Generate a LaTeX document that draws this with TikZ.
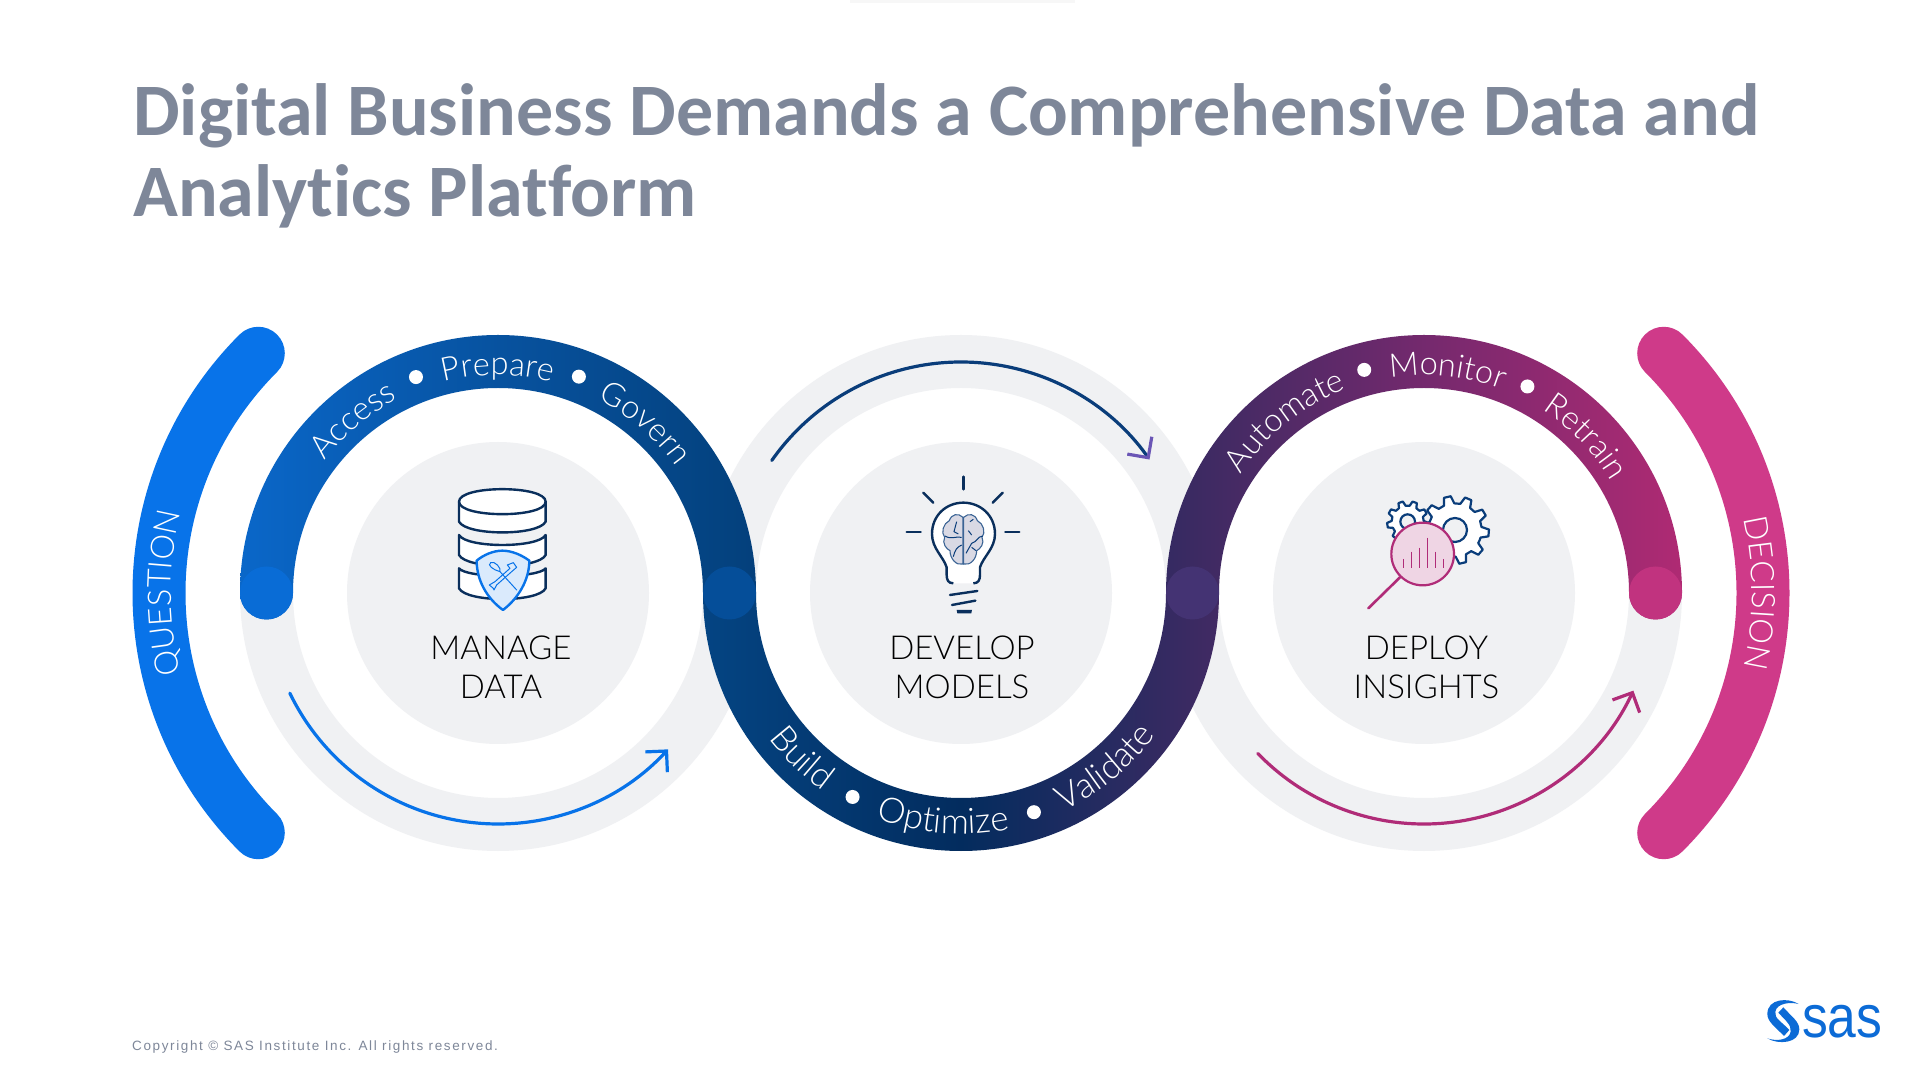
\documentclass[tikz,border=0pt]{standalone}
\usepackage{xcolor}
\usepackage{fontspec}
\usepackage{tikz}
\usetikzlibrary{calc, positioning, arrows.meta, decorations.text}
\setmainfont{Lato}
\newfontfamily\titlefont{Carlito}[Ligatures=CommonOff]
\newfontfamily\lightfont{Lato Light}
\newfontfamily\arialfont{Liberation Sans}
\definecolor{titleGray}{HTML}{7E8799}
\definecolor{paleGray}{HTML}{F0F1F3}
\definecolor{askBlue}{HTML}{0873E9}
\definecolor{decidePink}{HTML}{CF3A89}
\definecolor{navyLine}{HTML}{0A2F5C}
\definecolor{arrowNavy}{HTML}{0A3D7A}
\definecolor{arrowViolet}{HTML}{6A55B5}
\definecolor{arrowPlum}{HTML}{B02C78}
\definecolor{sasBlue}{HTML}{0C6BD6}
\definecolor{ringA}{HTML}{0A67C9}
\definecolor{ringB}{HTML}{07529F}
\definecolor{ringC}{HTML}{04427F}
\definecolor{ringD}{HTML}{032C5E}
\definecolor{ringE}{HTML}{3B2A62}
\definecolor{ringF}{HTML}{76296E}
\definecolor{ringG}{HTML}{AF2A73}
\pgfdeclarehorizontalshading{ringshade}{100bp}{color(0bp)=(ringA); color(25bp)=(ringA); color(34bp)=(ringB); color(42bp)=(ringC); color(50bp)=(ringD); color(58bp)=(ringE); color(66.3bp)=(ringF); color(75bp)=(ringG); color(100bp)=(ringG)}
\newcommand{\ringfont}{\lightfont\fontsize{32.5}{32.5}\selectfont\color{white}}
\newcommand{\lowfont}{\lightfont\fontsize{35}{35}\selectfont\color{white}}
\tikzset{
    backring/.style={draw=paleGray, line width=53pt},
    sidearc/.style={line width=53pt, line cap=round},
    joint/.style={circle, inner sep=0pt, minimum size=53pt},
    hub/.style={circle, fill=paleGray, inner sep=0pt, minimum size=302pt},
    hubtext/.style={align=center, text=black, font=\lightfont\fontsize{33}{39}\selectfont},
    ringtext/.style={decorate, decoration={text along path, text align=center, text={|\ringfont|#1}}},
    lowtext/.style={decorate, decoration={text along path, text align=center, text={|\lowfont|#1}}},
    ringdot/.style={circle, fill=white, inner sep=0pt, minimum size=14pt},
    flow/.style={line width=3.2pt, line cap=round, -{Straight Barb[length=15pt,width=30pt]}},
    iconline/.style={draw=navyLine, line width=2.4pt, line join=round},
    gearline/.style={draw=arrowNavy, fill=white, line width=2.2pt, line join=round},
    brainline/.style={draw=arrowNavy!80!white, fill=blue!30!black!15!white, line width=1.1pt},
    foldline/.style={draw=arrowNavy, line width=1pt}
}
\begin{document}
\begin{tikzpicture}[x=1pt, y=1pt]
    \useasboundingbox (0,0) rectangle (1920,1080);
    \fill[white] (0,0) rectangle (1920,1080);
    \fill[black!3] (850,1077) rectangle (1075,1080);
    \coordinate (ManageCtr) at (498,487);
    \coordinate (DevelopCtr) at (961,487);
    \coordinate (DeployCtr) at (1424,487);

    % Title
    \node[anchor=north west, inner sep=0pt, align=left, text=titleGray, font=\titlefont\bfseries\fontsize{74}{81}\selectfont] (Title) at (133,996.5) {Digital Business Demands a Comprehensive Data and\\Analytics Platform};

    % Gray rings
    \draw[backring] ([shift={(180:231.5)}]ManageCtr) arc (180:360:231.5);
    \draw[backring] ([shift={(180:231.5)}]DevelopCtr) arc (180:0:231.5);
    \draw[backring] ([shift={(180:231.5)}]DeployCtr) arc (180:360:231.5);

    % Hubs
    \node[hub] (ManageHub) at (ManageCtr) {};
    \node[hub] (DevelopHub) at (DevelopCtr) {};
    \node[hub] (DeployHub) at (DeployCtr) {};

    % Side arcs
    \draw[sidearc, askBlue] ([shift={(135:339)}]ManageCtr) arc (135:225:339);
    \draw[sidearc, decidePink] ([shift={(45:339)}]DeployCtr) arc (45:-45:339);

    % Big S ribbon
    \shade[shading=ringshade] (240,487) arc (180:0:258) arc (180:360:205) arc (180:0:258)
        arc (0:-180:26.5) arc (0:180:205) arc (0:-180:258) arc (0:180:205) arc (0:-180:26.5) -- cycle;
    \node[joint, fill=ringA!60!askBlue] (JointA) at (266.5,487) {};
    \node[joint, fill=ringC!75!askBlue] (JointB) at (729.5,487) {};
    \node[joint, fill=ringE!80!arrowViolet] (JointC) at (1192.5,487) {};
    \node[joint, fill=ringG!45!decidePink] (JointD) at (1655.5,487) {};

    % Ribbon words
    \path[ringtext={Access}] ([shift={(159:218)}]ManageCtr) arc (159:101:218);
    \path[ringtext={Prepare}] ([shift={(120:218)}]ManageCtr) arc (120:60:218);
    \path[ringtext={Govern}] ([shift={(79:218)}]ManageCtr) arc (79:19:218);
    \path[lowtext={Build}] ([shift={(196:241)}]DevelopCtr) arc (196:256:241);
    \path[lowtext={Optimize}] ([shift={(235:241)}]DevelopCtr) arc (235:296:241);
    \path[lowtext={Validate}] ([shift={(279.5:241)}]DevelopCtr) arc (279.5:339.5:241);
    \path[ringtext={Automate}] ([shift={(164:218)}]DeployCtr) arc (164:94:218);
    \path[ringtext={Monitor}] ([shift={(114:218)}]DeployCtr) arc (114:54:218);
    \path[ringtext={Retrain}] ([shift={(74.5:218)}]DeployCtr) arc (74.5:13.5:218);
    \path[ringtext={QUESTION}] ([shift={(212:327)}]ManageCtr) arc (212:148:327);
    \path[ringtext={DECISION}] ([shift={(32:328)}]DeployCtr) arc (32:-32:328);

    % Ribbon dots
    \node[ringdot] (DotA) at ([shift={(110.8:231)}]ManageCtr) {};
    \node[ringdot] (DotB) at ([shift={(69.5:231)}]ManageCtr) {};
    \node[ringdot] (DotC) at ([shift={(242:231)}]DevelopCtr) {};
    \node[ringdot] (DotD) at ([shift={(288.4:231)}]DevelopCtr) {};
    \node[ringdot] (DotE) at ([shift={(105:231)}]DeployCtr) {};
    \node[ringdot] (DotF) at ([shift={(63.4:231)}]DeployCtr) {};

    % Flow arrows
    \draw[flow, askBlue] ([shift={(205.7:231)}]ManageCtr) arc (205.7:317.4:231);
    \draw[flow, arrowNavy, -{Straight Barb[length=15pt,width=30pt,color=arrowViolet]}] ([shift={(145:231)}]DevelopCtr) arc (145:35.3:231);
    \draw[flow, arrowPlum] ([shift={(224:231)}]DeployCtr) arc (224:335:231);

    % Hub labels
    \node[hubtext] (ManageText) at (501,413) {MANAGE\\DATA};
    \node[hubtext] (DevelopText) at (962,413) {DEVELOP\\MODELS};
    \node[hubtext] (DeployText) at (1426.5,413) {DEPLOY\\INSIGHTS};

    % Database icon
    \begin{scope}[shift={(430pt,610pt)}, x=0.3333pt, y=-0.3333pt]
        \draw[iconline, fill=white] (87,295) .. controls (110,325) and (325,325) .. (347,295) -- (347,355) .. controls (325,398) and (110,398) .. (87,355) -- cycle;
        \draw[iconline, fill=white] (87,195) .. controls (110,235) and (325,235) .. (347,195) -- (347,255) .. controls (325,298) and (110,298) .. (87,255) -- cycle;
        \draw[iconline, fill=white] (87,95) .. controls (87,45) and (347,45) .. (347,95) -- (347,155) .. controls (325,198) and (110,198) .. (87,155) -- cycle;
        \draw[iconline] (87,95) .. controls (87,145) and (347,145) .. (347,95);
        \draw[draw=askBlue, fill=askBlue!15, line width=2.4pt, line join=round] (217,242) .. controls (190,242) and (160,255) .. (140,272) .. controls (140,330) and (170,385) .. (219,420) .. controls (265,385) and (298,330) .. (298,272) .. controls (275,255) and (245,242) .. (217,242) -- cycle;
        \draw[draw=askBlue, line width=1pt, line cap=round] (260,360) -- (210,305) .. controls (190,300) and (170,285) .. (182,278) .. controls (195,272) and (215,295) .. (210,305);
        \draw[draw=askBlue, line width=1pt, line cap=round, line join=round] (190,355) -- (178,345) -- (195,335) -- (240,295) -- (232,285) -- (250,278) -- (260,292) -- (245,305) -- (200,345) -- (192,360) -- cycle;
    \end{scope}

    % Bulb icon
    \begin{scope}[shift={(890pt,620pt)}, x=0.3333pt, y=-0.3333pt]
        \draw[iconline, fill=white] (190,370) .. controls (175,370) and (170,360) .. (170,345) -- (170,322) .. controls (160,290) and (126,265) .. (126,222) .. controls (126,165) and (170,128) .. (220,128) .. controls (270,128) and (315,165) .. (315,222) .. controls (315,265) and (280,290) .. (270,322) -- (270,345) .. controls (270,360) and (265,370) .. (250,370);
        \foreach \xa/\ya/\xb/\yb in {220/50/220/88, 100/98/130/128, 338/98/308/128, 50/216/92/216, 346/216/388/216, 180/405/262/393, 186/435/256/422} {
            \draw[iconline, line cap=round] (\xa,\ya) -- (\xb,\yb);
        }
        \fill[navyLine] (200,450) -- (246,450) -- (244,460) -- (202,460) -- cycle;
        \draw[brainline] (219,172) .. controls (205,158) and (184,162) .. (178,182) .. controls (160,190) and (152,218) .. (164,232) .. controls (155,250) and (170,268) .. (180,272) .. controls (180,297) and (200,318) .. (219,312) -- cycle;
        \draw[brainline] (221,172) .. controls (235,158) and (256,162) .. (262,182) .. controls (280,190) and (288,218) .. (276,232) .. controls (285,250) and (270,268) .. (260,272) .. controls (260,297) and (240,318) .. (221,312) -- cycle;
        \draw[foldline] (200,185) -- (192,215) -- (205,222) (165,228) .. controls (185,240) and (195,228) .. (215,232) (190,290) .. controls (195,270) and (200,262) .. (215,255) (240,185) -- (250,178) (245,225) -- (235,212) (278,228) .. controls (262,230) and (262,245) .. (245,250) -- (228,280) (258,272) -- (245,262);
    \end{scope}

    % Gears and lens icon
    \begin{scope}[shift={(1360pt,600pt)}, x=0.3333pt, y=-0.3333pt]
        \foreach \cx/\cy/\ro/\ri/\hole/\teeth/\rot in {143/125/62/48/22/9/10, 285/150/102/80/36/10/5} {
            \pgfmathsetmacro{\st}{360/\teeth}
            \draw[gearline] ($(\cx,\cy)+({\rot+0.5*\st}:\ri)$) \foreach \k in {1,...,\teeth} {
                -- ($(\cx,\cy)+({\k*\st+\rot-0.32*\st}:\ri)$) -- ($(\cx,\cy)+({\k*\st+\rot-0.16*\st}:\ro)$) -- ($(\cx,\cy)+({\k*\st+\rot+0.16*\st}:\ro)$) -- ($(\cx,\cy)+({\k*\st+\rot+0.32*\st}:\ri)$)
            } -- cycle;
            \draw[draw=arrowNavy, fill=paleGray, line width=2.2pt] (\cx,\cy) circle[radius=\hole];
        }
        \draw[draw=arrowPlum, line width=2.6pt, line cap=round] (120,292) -- (25,385);
        \draw[draw=arrowPlum, fill=arrowPlum!20, line width=2.2pt] (188,222) circle[radius=94];
        \foreach \bx/\by in {130/237, 154/215, 178/203, 202/173, 226/215, 250/237} {
            \draw[draw=arrowPlum, line width=1.6pt] (\bx,\by) -- (\bx,263);
        }
    \end{scope}

    % Logo and footer
    \begin{scope}[shift={(1750pt,90pt)}, x=0.3333pt, y=-0.3333pt]
        \fill[sasBlue] (146,42) .. controls (115,22) and (52,25) .. (52,72) .. controls (52,95) and (75,110) .. (102,138) -- (118,120) .. controls (95,95) and (72,85) .. (76,65) .. controls (80,40) and (120,35) .. (146,42) -- cycle;
        \fill[sasBlue] (52,145) .. controls (85,165) and (148,160) .. (148,118) .. controls (148,95) and (125,80) .. (100,52) -- (85,68) .. controls (105,90) and (125,105) .. (122,125) .. controls (118,150) and (80,155) .. (52,145) -- cycle;
    \end{scope}
    \node[anchor=base west, inner sep=0pt, text=sasBlue, font=\arialfont\fontsize{60}{60}\selectfont, xscale=0.86] (Logo) at (1802,43) {sas};
    \node[anchor=base west, inner sep=0pt, text=titleGray, font={\arialfont\addfontfeature{LetterSpace=12}\fontsize{13.5}{14}\selectfont}] (Copyright) at (132,30) {Copyright © SAS Institute Inc. All rights reserved.};
\end{tikzpicture}
\end{document}
